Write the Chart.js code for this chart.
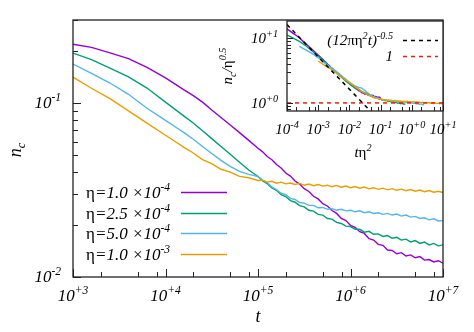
<!DOCTYPE html>
<html>
<head>
<meta charset="utf-8">
<script src="https://cdn.jsdelivr.net/npm/chart.js@4"></script>
<style>
    html, body { margin: 0; background: #fff; }
    #wrap { position: relative; width: 474px; height: 332px; }
    canvas { position: absolute; left: 0; top: 0; }
</style>
</head>
<body>
<div id="wrap">
    <canvas id="mainChart" width="474" height="332"></canvas>
    <canvas id="insetChart" width="474" height="332"></canvas>
</div>
<script>
// -----------------------------
// data
// -----------------------------
const LOG_T = [3.0, 3.2, 3.4, 3.6, 3.8,
    4.0, 4.1, 4.2, 4.3, 4.4, 4.5, 4.6, 4.7, 4.8, 4.9,
    5.0, 5.05, 5.1, 5.15, 5.2, 5.25, 5.3, 5.35, 5.4, 5.45,
    5.5, 5.55, 5.6, 5.65, 5.7, 5.75, 5.8, 5.85, 5.9, 5.95,
    6.0, 6.05, 6.1, 6.15, 6.2, 6.25, 6.3, 6.35, 6.4, 6.45,
    6.5, 6.55, 6.6, 6.65, 6.7, 6.75, 6.8, 6.85, 6.9, 6.95, 7.0];

const ETAS = [1.0e-4, 2.5e-4, 5.0e-4, 1.0e-3];
const ETA_MANT = ["1.0", "2.5", "5.0", "1.0"];
const ETA_EXP = ["-4", "-4", "-4", "-3"];
const COLORS = ["#9400d3", "#009e73", "#56b4e9", "#e69f00"];

const NC_ETA1 = [0.2178, 0.2089, 0.1941, 0.1799, 0.1603,
    0.1396, 0.1288, 0.1189, 0.1102, 0.1012, 0.0912, 0.0826, 0.0748, 0.0676, 0.0610,
    0.0550, 0.0524, 0.0493, 0.0472, 0.0443, 0.0423, 0.0396, 0.0380, 0.0356, 0.0342,
    0.0322, 0.0310, 0.0291, 0.0281, 0.0264, 0.0256, 0.0241, 0.0232, 0.0217, 0.0211,
    0.0198, 0.0193, 0.0182, 0.0178, 0.0166, 0.0163, 0.0154, 0.0152, 0.0143, 0.0142,
    0.0136, 0.0138, 0.0132, 0.0134, 0.0129, 0.0131, 0.0125, 0.0126, 0.0122, 0.0124, 0.0120];

const NC_ETA2 = [0.1936, 0.1778, 0.1585, 0.1413, 0.1219,
    0.1012, 0.0923, 0.0841, 0.0767, 0.0692, 0.0624, 0.0562, 0.0507, 0.0457, 0.0412,
    0.0378, 0.0357, 0.0344, 0.0325, 0.0315, 0.0297, 0.0290, 0.0275, 0.0269, 0.0257,
    0.0253, 0.0242, 0.0239, 0.0229, 0.0227, 0.0217, 0.0215, 0.0206, 0.0203, 0.0196,
    0.0195, 0.0188, 0.0188, 0.0181, 0.0183, 0.0176, 0.0177, 0.0171, 0.0173, 0.0167,
    0.0169, 0.0163, 0.0165, 0.0159, 0.0162, 0.0156, 0.0159, 0.0153, 0.0156, 0.0151, 0.0153];

const NC_ETA3 = [0.1675, 0.1479, 0.1303, 0.1122, 0.0933,
    0.0794, 0.0733, 0.0676, 0.0619, 0.0562, 0.0513, 0.0468, 0.0432, 0.0405, 0.0389,
    0.0378, 0.0361, 0.0349, 0.0329, 0.0318, 0.0303, 0.0297, 0.0283, 0.0279, 0.0268,
    0.0266, 0.0258, 0.0258, 0.0250, 0.0251, 0.0245, 0.0247, 0.0242, 0.0245, 0.0240,
    0.0242, 0.0237, 0.0240, 0.0234, 0.0237, 0.0232, 0.0234, 0.0229, 0.0232, 0.0227,
    0.0230, 0.0224, 0.0227, 0.0221, 0.0223, 0.0217, 0.0219, 0.0213, 0.0216, 0.0210, 0.0211];

const NC_ETA4 = [0.1409, 0.1216, 0.1059, 0.0902, 0.0767,
    0.0653, 0.0603, 0.0556, 0.0516, 0.0473, 0.0448, 0.0416, 0.0401, 0.0379, 0.0372,
    0.0359, 0.0360, 0.0351, 0.0355, 0.0346, 0.0351, 0.0343, 0.0347, 0.0340, 0.0345,
    0.0337, 0.0342, 0.0335, 0.0340, 0.0333, 0.0337, 0.0330, 0.0336, 0.0328, 0.0333,
    0.0326, 0.0331, 0.0324, 0.0329, 0.0321, 0.0326, 0.0319, 0.0324, 0.0317, 0.0322,
    0.0315, 0.0320, 0.0313, 0.0318, 0.0311, 0.0316, 0.0309, 0.0314, 0.0307, 0.0311, 0.0306];

const NC_ALL = [NC_ETA1, NC_ETA2, NC_ETA3, NC_ETA4];

// inset reference lines: (12 pi eta^2 t)^-0.5 and 1
const THEORY_X = [1e-4, 0.05];
const THEORY_Y = [16.3, 0.728];
const ONE_X = [1e-4, 10];
const ONE_Y = [1, 1];

const MAIN_X_EXP = ["+3", "+4", "+5", "+6", "+7"];
const MAIN_Y_EXP = ["-2", "-1"];
const INSET_X_EXP = ["-4", "-3", "-2", "-1", "+0", "+1"];
const INSET_Y_EXP = ["+0", "+1"];

const FONT = '"Liberation Serif", "Times New Roman", serif';

// -----------------------------
// helpers
// -----------------------------
function drawRich(ctx, parts, x, y, opt) {
    const size = opt.size;
    const segs = parts.map(([t, k]) => {
        const small = k === "sup" || k === "sub";
        const fs = small ? size * 0.68 : size;
        const font = (k === "r" ? "" : "italic ") + fs + "px " + FONT;
        ctx.font = font;
        return {
            t: t, font: font, w: ctx.measureText(t).width,
            dy: k === "sup" ? -size * 0.42 : (k === "sub" ? size * 0.24 : 0)
        };
    });
    const total = segs.reduce((s, g) => s + g.w, 0);
    ctx.save();
    ctx.translate(x, y);
    if (opt.rotate) ctx.rotate(opt.rotate);
    let cx = opt.align === "right" ? -total : (opt.align === "center" ? -total / 2 : 0);
    ctx.textBaseline = "alphabetic";
    ctx.textAlign = "left";
    ctx.fillStyle = opt.color || "#000";
    segs.forEach(g => {
        ctx.font = g.font;
        ctx.fillText(g.t, cx, g.dy);
        cx += g.w;
    });
    ctx.restore();
}

function logTicks(min, max, minors) {
    const out = [];
    for (let e = Math.floor(Math.log10(min)); e <= Math.ceil(Math.log10(max)); e++) {
        [1].concat(minors).forEach(m => {
            const v = m * Math.pow(10, e);
            if (v >= min * 0.999 && v <= max * 1.001) out.push({ v: v, major: m === 1, e: e });
        });
    }
    return out;
}

function drawFrame(chart, cfg) {
    const { ctx, chartArea: a, scales } = chart;
    ctx.save();
    ctx.strokeStyle = "#222";
    ctx.lineWidth = 1.3;
    ctx.strokeRect(a.left, a.top, a.right - a.left, a.bottom - a.top);
    ctx.lineWidth = 1;
    ctx.beginPath();
    logTicks(scales.x.min, scales.x.max, cfg.xMinor).forEach(t => {
        const px = Math.round(scales.x.getPixelForValue(t.v)) + 0.5;
        const len = t.major ? cfg.majorLen : cfg.minorLen;
        ctx.moveTo(px, a.bottom);
        ctx.lineTo(px, a.bottom - len);
    });
    logTicks(scales.y.min, scales.y.max, cfg.yMinor).forEach(t => {
        const py = Math.round(scales.y.getPixelForValue(t.v)) + 0.5;
        const len = t.major ? cfg.majorLen : cfg.minorLen;
        ctx.moveTo(a.left, py);
        ctx.lineTo(a.left + len, py);
    });
    ctx.stroke();
    ctx.restore();

    // tick labels
    logTicks(scales.x.min, scales.x.max, []).forEach((t, i) => {
        drawRich(ctx, [["10", "i"], [cfg.xExp[i], "sup"]],
            scales.x.getPixelForValue(t.v), a.bottom + cfg.xLabelDy, { size: cfg.size, align: "center" });
    });
    logTicks(scales.y.min, scales.y.max, []).forEach((t, i) => {
        drawRich(ctx, [["10", "i"], [cfg.yExp[i], "sup"]],
            a.left - cfg.yLabelDx, scales.y.getPixelForValue(t.v) + 5, { size: cfg.size, align: "right" });
    });
}

function dataset(points, color, order, width, dash) {
    return {
        data: points,
        borderColor: color,
        borderWidth: width,
        borderDash: dash || [],
        pointRadius: 0,
        fill: false,
        tension: 0,
        order: order
    };
}

// -----------------------------
// main chart
// -----------------------------
const mainPlugin = {
    id: "mainDecor",
    afterDraw(chart) {
        const ctx = chart.ctx;
        drawFrame(chart, {
            xMinor: [2, 5, 8], yMinor: [2, 3, 4, 5, 6, 7, 8, 9],
            majorLen: 8, minorLen: 5, size: 17,
            xExp: MAIN_X_EXP, yExp: MAIN_Y_EXP, xLabelDy: 24, yLabelDx: 12
        });
        // axis titles
        drawRich(ctx, [["n", "i"], ["c", "sub"]], 21, 150, { size: 18, align: "center", rotate: -Math.PI / 2 });
        drawRich(ctx, [["t", "i"]], 258, 322, { size: 18, align: "center" });

        // legend
        const rows = [192, 213, 233, 254];
        rows.forEach((ry, i) => {
            drawRich(ctx, [["η", "r"], ["=" + ETA_MANT[i] + " ×10", "i"], [ETA_EXP[i], "sup"]],
                170, ry + 6, { size: 17, align: "right" });
            ctx.save();
            ctx.strokeStyle = COLORS[i];
            ctx.lineWidth = 1.5;
            ctx.beginPath();
            ctx.moveTo(181, ry + 0.5);
            ctx.lineTo(227, ry + 0.5);
            ctx.stroke();
            ctx.restore();
        });
    }
};

new Chart(document.getElementById("mainChart"), {
    type: "line",
    data: {
        datasets: NC_ALL.map((vals, i) => dataset(
            LOG_T.map((lt, k) => ({ x: Math.pow(10, lt), y: vals[k] })), COLORS[i], 3 - i, 1.4))
    },
    options: {
        responsive: false,
        devicePixelRatio: 1,
        animation: false,
        events: [],
        parsing: false,
        layout: { padding: { left: 73, right: 31, top: 20, bottom: 55 } },
        scales: {
            x: { type: "logarithmic", min: 1e3, max: 1e7, display: false },
            y: { type: "logarithmic", min: 0.01, max: 0.3, display: false }
        },
        plugins: { legend: { display: false }, tooltip: { enabled: false } }
    },
    plugins: [mainPlugin]
});

// -----------------------------
// inset chart (scaled data)
// -----------------------------
const insetPlugin = {
    id: "insetDecor",
    beforeDraw(chart) {
        const { ctx, chartArea: a } = chart;
        ctx.save();
        ctx.fillStyle = "#fff";
        ctx.fillRect(a.left, a.top, a.right - a.left, a.bottom - a.top);
        ctx.restore();
    },
    afterDraw(chart) {
        const ctx = chart.ctx;
        drawFrame(chart, {
            xMinor: [2, 5, 8], yMinor: [2, 3, 4, 5, 6, 7, 8, 9],
            majorLen: 6, minorLen: 4, size: 15,
            xExp: INSET_X_EXP, yExp: INSET_Y_EXP, xLabelDy: 23, yLabelDx: 9
        });
        drawRich(ctx, [["n", "i"], ["c", "sub"], ["/", "i"], ["η", "r"], ["0.5", "sup"]],
            232, 66, { size: 15, align: "center", rotate: -Math.PI / 2 });
        drawRich(ctx, [["t", "i"], ["η", "r"], ["2", "sup"]], 363, 157, { size: 15, align: "center" });

        // inset key
        drawRich(ctx, [["(12", "i"], ["πη", "r"], ["2", "sup"], ["t)", "i"], ["-0.5", "sup"]],
            393, 45, { size: 15, align: "right" });
        drawRich(ctx, [["1", "i"]], 393, 61, { size: 15, align: "right" });
        [["#000", 40], ["#e51e10", 56]].forEach(([c, ry]) => {
            ctx.save();
            ctx.strokeStyle = c;
            ctx.lineWidth = 1.5;
            ctx.setLineDash([4, 4]);
            ctx.beginPath();
            ctx.moveTo(403, ry + 0.5);
            ctx.lineTo(438, ry + 0.5);
            ctx.stroke();
            ctx.restore();
        });
    }
};

const insetSets = NC_ALL.map((vals, i) => dataset(
    LOG_T.map((lt, k) => ({ x: Math.pow(10, lt) * ETAS[i] * ETAS[i], y: vals[k] / Math.sqrt(ETAS[i]) })),
    COLORS[i], 5 - i, 1.4));
insetSets.push(dataset(THEORY_X.map((x, k) => ({ x: x, y: THEORY_Y[k] })), "#000", 0, 1.5, [4, 4]));
insetSets.push(dataset(ONE_X.map((x, k) => ({ x: x, y: ONE_Y[k] })), "#e51e10", 1, 1.5, [4, 4]));

new Chart(document.getElementById("insetChart"), {
    type: "line",
    data: { datasets: insetSets },
    options: {
        responsive: false,
        devicePixelRatio: 1,
        animation: false,
        events: [],
        parsing: false,
        layout: { padding: { left: 287, right: 31, top: 21, bottom: 221 } },
        scales: {
            x: { type: "logarithmic", min: 1e-4, max: 10, display: false },
            y: { type: "logarithmic", min: 0.75, max: 18.5, display: false }
        },
        plugins: { legend: { display: false }, tooltip: { enabled: false } }
    },
    plugins: [insetPlugin]
});
</script>
</body>
</html>
